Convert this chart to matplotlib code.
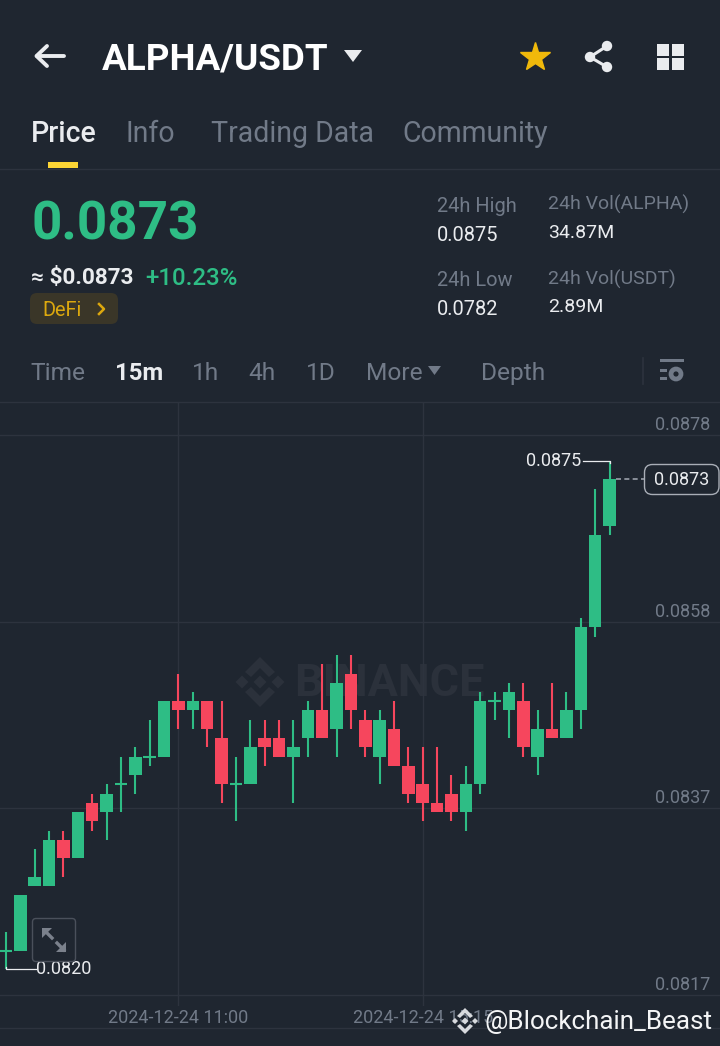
import matplotlib
matplotlib.use("Agg")
import matplotlib.pyplot as plt
from matplotlib.patches import Polygon, FancyBboxPatch, Rectangle, Circle
from matplotlib.transforms import ScaledTranslation

opens = [.0822,.0822,.0829,.0829,.0834,.0832,.0838,.0837,.0840,.0841,.0843,.0843,.0849,.0848,.0849,.0845,.0840,.0840,.0845,.0845,.0843,
         .0845,.0848,.0846,.0852,.0847,.0843,.0846,.0842,.0840,.0838,.0839,.0837,.0840,.0849,.0848,.0849,.0843,.0846,.0845,.0848,.0857,.0868]
closes = [.0822,.0828,.0830,.0834,.0832,.0837,.0836,.0839,.0840,.0843,.0843,.0849,.0848,.0849,.0846,.0840,.0840,.0844,.0844,.0843,.0844,
          .0848,.0845,.0851,.0848,.0844,.0847,.0842,.0839,.0838,.0837,.0837,.0840,.0849,.0849,.0850,.0844,.0846,.0845,.0848,.0857,.0867,.0873]
highs = [.0824,.0828,.0833,.0835,.0835,.0837,.0839,.0840,.0843,.0844,.0847,.0849,.0852,.0850,.0849,.0849,.0843,.0847,.0847,.0847,.0847,
         .0849,.0853,.0854,.0854,.0848,.0848,.0849,.0844,.0844,.0844,.0841,.0842,.0850,.0850,.0851,.0851,.0848,.0851,.0850,.0858,.0872,.0875]
lows = [.0820,.0822,.0829,.0829,.0830,.0832,.0835,.0834,.0837,.0839,.0842,.0843,.0846,.0846,.0844,.0838,.0836,.0840,.0842,.0843,.0838,
        .0843,.0845,.0843,.0846,.0843,.0840,.0842,.0838,.0836,.0837,.0836,.0835,.0839,.0847,.0845,.0843,.0841,.0845,.0845,.0846,.0856,.0867]
price_ticks = [.08778, .08576, .08374, .08172]
time_tick_candles = [12, 29]
time_tick_labels = ["2024-12-24 11:00", "2024-12-24 15:15"]
tabs = ["Price", "Info", "Trading Data", "Community"]
intervals = ["Time", "15m", "1h", "4h", "1D", "More", "Depth"]

BG = "#1f2630"; GRID = "#2d333e"; GREEN = "#2ebd85"; RED = "#f6465d"
GREY = "#717a88"; WHITE = "#eaecef"
plt.rcParams["font.family"] = ["Roboto", "DejaVu Sans"]

W, H = 720, 1046
fig = plt.figure(figsize=(W/100, H/100), dpi=100, facecolor=BG)

def pixel_axes(z):
    a = fig.add_axes([0, 0, 1, 1], zorder=z)
    a.set_xlim(0, W); a.set_ylim(H, 0); a.axis("off"); a.patch.set_visible(False)
    return a

ui = pixel_axes(0)
top = pixel_axes(7)

def T(a, x, y, s, px, color=GREY, weight="normal", ha="left", **kw):
    return a.text(x, y + 1.5, s, fontsize=px*0.72, color=color, fontweight=weight, ha=ha, va="center", **kw)

# --- header
ui.plot([37, 64], [56, 56], color=WHITE, lw=2.8, solid_capstyle="round")
ui.plot([47, 36.5, 47], [46, 56, 66], color=WHITE, lw=2.8, solid_capstyle="round", solid_joinstyle="round")
T(ui, 102, 58, "ALPHA/USDT", 36.8, "#ffffff", "bold")
ui.add_patch(Polygon([[344, 50], [362, 50], [353, 62]], color=WHITE, lw=0))
ui.plot([535], [57], marker="*", ms=22, color="#f0b90b", mec="#f0b90b")
for cx, cy in [(607, 46), (590, 57), (607, 67)]:
    ui.add_patch(Circle((cx, cy), 5.2, color=WHITE, lw=0))
ui.plot([607, 590, 607], [46, 57, 67], color=WHITE, lw=2.2)
for x0, y0 in [(657, 44), (672, 44), (657, 58), (672, 58)]:
    ui.add_patch(Rectangle((x0, y0), 11.5, 11.5, color=WHITE, lw=0))

# --- tabs
for x, s, c, w in zip([31, 126, 211, 402], tabs, [WHITE, GREY, GREY, GREY], ["medium", "normal", "normal", "normal"]):
    T(ui, x, 133, s, 28.5, c, w)
ui.add_patch(Rectangle((48, 162), 30, 6, color="#fcd535", lw=0))
ui.plot([0, W], [168.5, 168.5], color=GRID, lw=1)

# --- price block
T(ui, 31, 223, "0.0873", 53, GREEN, "bold")
T(ui, 31, 277, "≈ $0.0873", 22.5, WHITE, "bold")
T(ui, 145, 277, "+10.23%", 24, GREEN, "medium")
ui.add_patch(FancyBboxPatch((30, 293), 88, 31, boxstyle="round,pad=0,rounding_size=7", lw=0, color="#3a3628"))
T(ui, 42, 309, "DeFi", 20, "#dca80e")
ui.plot([99, 104, 99], [304, 309, 314], color="#dca80e", lw=1.8)

T(ui, 437, 205, "24h High", 20); T(ui, 437, 234, "0.0875", 20, WHITE)
T(ui, 548, 203, "24h Vol(ALPHA)", 19.5); T(ui, 548, 232, "34.87M", 19.5, WHITE)
T(ui, 437, 279, "24h Low", 20); T(ui, 437, 308, "0.0782", 20, WHITE)
T(ui, 548, 278, "24h Vol(USDT)", 19.5); T(ui, 548, 306, "2.89M", 19.5, WHITE)

# --- interval bar
for x, s in zip([30, 115, 192, 248, 306, 366, 481], intervals):
    if s == "15m":
        T(ui, x, 372, s, 24, WHITE, "bold")
    else:
        T(ui, x, 372, s, 24.5)
ui.add_patch(Polygon([[428, 366], [441, 366], [434.5, 375]], color=GREY, lw=0))
ui.plot([643, 643], [358, 384], color=GRID, lw=1.2)
ui.add_patch(Rectangle((660, 359), 24, 3, color=GREY, lw=0))
ui.add_patch(Rectangle((660, 369), 7, 3, color=GREY, lw=0))
ui.add_patch(Rectangle((660, 377), 7, 3, color=GREY, lw=0))
ui.add_patch(Circle((676, 374), 5, fill=False, ec=GREY, lw=3.4))
ui.plot([0, W], [401.5, 401.5], color=GRID, lw=1)
ui.plot([0, W], [1027.5, 1027.5], color=GRID, lw=1)

# --- BINANCE watermark
WM = "#2b313b"
for cx, cy, r in [(242, 682, 6.5), (278, 682, 6.5), (260, 682, 6.5)]:
    ui.add_patch(Polygon([[cx-r, cy], [cx, cy-r], [cx+r, cy], [cx, cy+r]], color=WM, lw=0))
ui.add_patch(Polygon([[260, 657], [275, 672], [269, 677], [260, 668], [251, 677], [245, 672]], color=WM, lw=0))
ui.add_patch(Polygon([[260, 707], [275, 692], [269, 687], [260, 696], [251, 687], [245, 692]], color=WM, lw=0))
T(ui, 294, 683, "BINANCE", 45, WM, "bold")

# --- chart
y_px_top, y_px_bot = 402, 1006
px_per_price = 92400.0
ax = fig.add_axes([0, 1 - y_px_bot/H, 1, (y_px_bot - y_px_top)/H], zorder=6)
ax.patch.set_visible(False)
for s in ax.spines.values():
    s.set_visible(False)
ax.set_xlim(-6/14.37, (720-6)/14.37)
ax.set_ylim(0.0875 - (y_px_bot-461)/px_per_price, 0.0875 + (461-y_px_top)/px_per_price)

xs = list(range(len(opens)))
colors = [GREEN if c >= o else RED for o, c in zip(opens, closes)]
ax.vlines(xs, lows, highs, colors=colors, lw=1.5, zorder=3)
ax.bar(xs, [abs(c-o) for o, c in zip(opens, closes)], bottom=[min(o, c) for o, c in zip(opens, closes)],
       width=0.87, color=colors, lw=0, zorder=3)
doji = [i for i in xs if opens[i] == closes[i]]
ax.hlines([opens[i] for i in doji], [i-0.435 for i in doji], [i+0.435 for i in doji],
          colors=[colors[i] for i in doji], lw=1.5, zorder=3)

ax.set_yticks(price_ticks, [f"{p:.4f}" for p in price_ticks])
ax.set_xticks(time_tick_candles, time_tick_labels)
ax.grid(True, color=GRID, lw=1)
ax.set_axisbelow(True)
ax.tick_params(axis="y", length=0, pad=-710*0.72, labelsize=18*0.72, labelcolor=GREY)
ax.tick_params(axis="x", length=0, pad=2.5, labelsize=18*0.72, labelcolor=GREY)
off = ScaledTranslation(0, 5/100, fig.dpi_scale_trans)
for t in ax.yaxis.get_major_ticks():
    t.label1.set_va("baseline")
    t.label1.set_transform(t.label1.get_transform() + off)

# extreme / last price markers, tied to data
hi_i = highs.index(max(highs)); lo_i = lows.index(min(lows))
ax.plot([hi_i-1.85, hi_i, hi_i], [highs[hi_i], highs[hi_i], highs[hi_i]-0.00002], color=WHITE, lw=0.9, zorder=4)
ax.text(hi_i-2.0, highs[hi_i], f"{highs[hi_i]:.4f}", color=WHITE, fontsize=18*0.72, ha="right", va="center", zorder=4)
ax.plot([lo_i, lo_i, lo_i+2.1], [lows[lo_i]+0.00002, lows[lo_i], lows[lo_i]], color=WHITE, lw=0.9, zorder=4)
ax.text(lo_i+2.1, lows[lo_i], f"{lows[lo_i]:.4f}", color=WHITE, fontsize=18*0.72, ha="left", va="center", zorder=4)
ax.plot([42.45, 44.4], [closes[-1], closes[-1]], color="#9aa0aa", lw=1.2, ls=(0, (3, 2)), zorder=4)
ui.add_patch(FancyBboxPatch((644.5, 464.5), 74.5, 30, boxstyle="round,pad=0,rounding_size=8", fc=BG, ec="#a9aeb7", lw=1))
ax.text(44.4 + 38/14.37, closes[-1] - 0.00001, f"{closes[-1]:.4f}", color=WHITE, fontsize=18*0.72,
        ha="center", va="center", zorder=6)

# --- expand button
top.add_patch(FancyBboxPatch((32.5, 918.5), 43, 43, boxstyle="round,pad=0,rounding_size=3.5", fc=BG, ec="#4a505b", lw=1))
top.plot([45, 52], [931, 938], color="#7b818c", lw=2.4)
top.plot([57, 64], [943, 950], color="#7b818c", lw=2.4)
top.add_patch(Polygon([[42, 928], [52, 928], [42, 938]], color="#7b818c", lw=0))
top.add_patch(Polygon([[66, 952], [56, 952], [66, 942]], color="#7b818c", lw=0))

# --- bottom watermark
T(top, 484, 1021, "@Blockchain_Beast", 26, "#f4f5f6", zorder=8)
for cx, cy, r in [(455, 1021, 3), (475, 1021, 3), (465, 1021, 3.5)]:
    top.add_patch(Polygon([[cx-r, cy], [cx, cy-r], [cx+r, cy], [cx, cy+r]], color="#d8dade", lw=0, zorder=8))
top.add_patch(Polygon([[465, 1008], [473, 1016], [470, 1018], [465, 1013], [460, 1018], [457, 1016]], color="#d8dade", lw=0, zorder=8))
top.add_patch(Polygon([[465, 1034], [473, 1026], [470, 1024], [465, 1029], [460, 1024], [457, 1026]], color="#d8dade", lw=0, zorder=8))

fig.savefig("out.png", dpi=100, facecolor=BG)
